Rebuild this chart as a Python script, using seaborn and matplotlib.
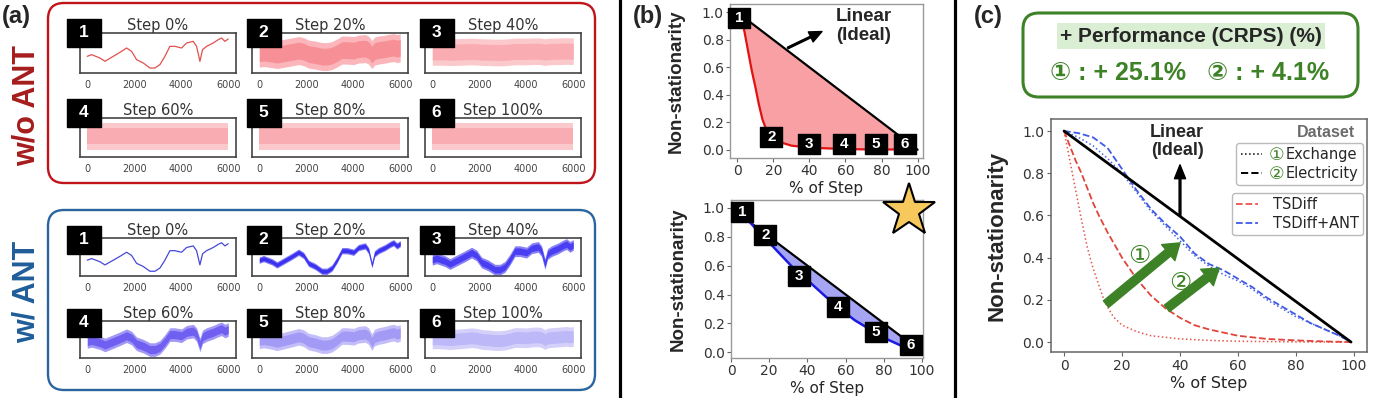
import numpy as np
import seaborn as sns
import matplotlib.pyplot as plt
from matplotlib.patches import FancyBboxPatch
from matplotlib.lines import Line2D

# ---------------- data ----------------
# (a) series read off the "Step 0%" panels
ts_x = [0, 184, 539, 752, 1106, 1390, 1673, 1886, 2099, 2382, 2666, 2879, 3091, 3304,
        3517, 3730, 4014, 4227, 4510, 4652, 4794, 4907, 5077, 5361, 5574, 5716, 5858, 6000]
ts_y = [0.5, 0.55, 0.45, 0.35, 0.5, 0.62, 0.75, 0.65, 0.4, 0.3, 0.15, 0.15, 0.25, 0.5,
        0.8, 0.8, 0.75, 0.9, 0.95, 0.8, 0.35, 0.7, 0.8, 0.9, 1.0, 1.05, 0.95, 1.02]
steps = ["Step 0%", "Step 20%", "Step 40%", "Step 60%", "Step 80%", "Step 100%"]
time_ticks = [0, 2000, 4000, 6000]
# share of the step-0 trend still visible, and half-width of the noise band
wo_trend = [1.0, 0.3, 0.05, 0.0, 0.0, 0.0]
wo_noise = [0.0, 0.42, 0.40, 0.42, 0.42, 0.42]
w_trend = [1.0, 1.0, 0.9, 0.75, 0.45, 0.15]
w_noise = [0.0, 0.10, 0.17, 0.22, 0.27, 0.32]

# (b) non-stationarity vs % of step
ideal_x = [0, 100]
ideal_y = [1.0, 0.0]
wo_curve_x = [2, 3, 4, 5, 6, 7, 8, 10, 12, 14, 16, 18, 20, 25, 30, 40, 50, 60, 70, 80, 90]
wo_curve_y = [1.0, 0.93, 0.86, 0.79, 0.72, 0.65, 0.58, 0.46, 0.33, 0.22, 0.15, 0.11, 0.08,
              0.05, 0.03, 0.015, 0.01, 0.005, 0.003, 0.002, 0.002]
w_curve_x = [8, 12, 16, 20, 25, 30, 35, 40, 45, 50, 55, 60, 65, 70, 75, 80, 85, 90, 94]
w_curve_y = [0.93, 0.87, 0.8, 0.76, 0.69, 0.62, 0.55, 0.5, 0.44, 0.38, 0.33, 0.27, 0.22,
             0.18, 0.14, 0.1, 0.07, 0.04, 0.03]
wo_mark_x = [1, 19, 40, 59, 77, 93]
wo_mark_y = [0.96, 0.09, 0.04, 0.04, 0.04, 0.04]
w_mark_x = [6, 18, 35.5, 56, 76, 94]
w_mark_y = [0.97, 0.81, 0.53, 0.31, 0.14, 0.05]

# (c) TSDiff vs TSDiff+ANT
tsdiff_exch_x = [0, 1, 2, 3, 4, 6, 8, 10, 12, 14, 17, 20, 25, 30, 40, 50, 60, 80, 99]
tsdiff_exch_y = [1.0, 0.93, 0.86, 0.79, 0.72, 0.58, 0.45, 0.35, 0.27, 0.19, 0.12, 0.08,
                 0.05, 0.03, 0.015, 0.008, 0.004, 0.001, 0.0]
tsdiff_elec_x = [0, 2, 4, 6, 8, 10, 12, 15, 20, 25, 30, 35, 40, 45, 50, 60, 70, 80, 90, 99]
tsdiff_elec_y = [1.0, 0.93, 0.86, 0.8, 0.73, 0.66, 0.6, 0.52, 0.4, 0.3, 0.22, 0.16, 0.115,
                 0.08, 0.06, 0.03, 0.015, 0.008, 0.003, 0.0]
ant_x = [0, 5, 10, 15, 20, 25, 30, 35, 40, 45, 50, 55, 60, 65, 70, 75, 80, 85, 90, 95, 99]
ant_elec_y = [1.0, 0.99, 0.97, 0.92, 0.82, 0.72, 0.63, 0.56, 0.5, 0.42, 0.37, 0.34, 0.3,
              0.26, 0.21, 0.17, 0.13, 0.09, 0.06, 0.03, 0.0]
ant_exch_y = [1.0, 0.97, 0.93, 0.87, 0.8, 0.71, 0.62, 0.55, 0.48, 0.41, 0.36, 0.32, 0.29,
              0.25, 0.2, 0.16, 0.12, 0.09, 0.06, 0.03, 0.0]
crps_marks = ["\u2460", "\u2461"]
crps_gain = [25.1, 4.1]

# ---------------- style ----------------
sns.set_style("ticks")
plt.rcParams["font.family"] = ["DejaVu Sans", "Noto Sans CJK SC"]
ARIAL = ["Liberation Sans", "DejaVu Sans", "Noto Sans CJK SC"]
RED_BOX, RED_TXT = "#c0141a", "#a51c1c"
BLUE_BOX, BLUE_TXT = "#2a65a0", "#1f5d99"
GREEN = "#3e8227"
wo_colors = ["#e0504e", "#f7868d", "#f9a5ab", "#f9a5ab", "#f9a5ab", "#f9a5ab"]
w_colors = ["#4848d8", "#2a20ee", "#3a2ef0", "#6453f0", "#9c92f5", "#b8b2f8"]
box_marker = [(-1.2, -1), (1.2, -1), (1.2, 1), (-1.2, 1), (-1.2, -1)]

W, H = 1377, 398
fig = plt.figure(figsize=(W / 100, H / 100), dpi=100)


def px_axes(x0, y0, x1, y1):
    return fig.add_axes([x0 / W, 1 - y1 / H, (x1 - x0) / W, (y1 - y0) / H])


def px_round_box(x0, y0, x1, y1, color, lw, r):
    p = FancyBboxPatch((x0 / 100, (H - y1) / 100), (x1 - x0) / 100, (y1 - y0) / 100,
                       boxstyle=f"round,pad=0,rounding_size={r / 100}",
                       transform=fig.dpi_scale_trans, fc="none", ec=color, lw=lw,
                       zorder=-1)
    fig.patches.append(p)


# ---------------- (a) ----------------
px_round_box(48, 3, 595, 183, RED_BOX, 1.7, 16)
px_round_box(48, 210, 595, 390, BLUE_BOX, 1.7, 16)
fig.text(16 / W, 1 - 16 / H, "(a)", fontsize=17, fontweight="bold", family=ARIAL,
         ha="center", va="center")
fig.text(27 / W, 1 - 105 / H, "w/o ANT", fontsize=22, fontweight="bold", family=ARIAL,
         color=RED_TXT, rotation=90, ha="center", va="center")
fig.text(27 / W, 1 - 292 / H, "w/ ANT", fontsize=22, fontweight="bold", family=ARIAL,
         color=BLUE_TXT, rotation=90, ha="center", va="center")

cols = [(80, 236), (252, 408), (425, 581)]
col_box_fx = [0.026, 0.074, 0.074]
groups = [
    ([(33, 73), (118, 157)], [1.01, 1.13], wo_trend, wo_noise, wo_colors),
    ([(238, 276), (321, 358)], [0.95, 0.95], w_trend, w_noise, w_colors),
]
base_x = np.array(ts_x)
base_y = np.array(ts_y)
mean_y = base_y.mean()
for rows, box_fy, trend, noise, colors in groups:
    for i in range(6):
        r, c = divmod(i, 3)
        ax = px_axes(cols[c][0], rows[r][0], cols[c][1], rows[r][1])
        center = mean_y + trend[i] * (base_y - mean_y)
        if noise[i] == 0:
            sns.lineplot(x=base_x, y=center, ax=ax, color=colors[i], lw=0.9)
        else:
            ax.fill_between(base_x, center - noise[i], center + noise[i],
                            color=colors[i], alpha=0.6, lw=0)
            ax.fill_between(base_x, center - 0.6 * noise[i], center + 0.6 * noise[i],
                            color=colors[i], alpha=0.8, lw=0)
        ax.set_xlim(-310, 6330)
        ax.set_ylim(0.0, 1.2)
        ax.set_yticks([])
        ax.set_xticks(time_ticks)
        ax.tick_params(axis="x", length=0, pad=5, labelsize=7, labelcolor="#444")
        for s in ax.spines.values():
            s.set_color("#444")
            s.set_linewidth(1.2)
        ax.set_title(steps[i], fontsize=10.5, color="#333", pad=2)
        ax.plot([col_box_fx[c]], [box_fy[r]], marker=box_marker, ms=24.5, color="k",
                transform=ax.transAxes, clip_on=False, zorder=5)
        ax.text(col_box_fx[c], box_fy[r], str(i + 1), transform=ax.transAxes,
                color="white", fontsize=12.5, fontweight="bold", family=ARIAL,
                ha="center", va="center", zorder=6)

# divider lines
for xd in (620, 955):
    fig.add_artist(Line2D([xd / W, xd / W], [0, 1], color="k", lw=2.3))

# ---------------- (b) ----------------
fig.text(648 / W, 1 - 17 / H, "(b)", fontsize=17, fontweight="bold", family=ARIAL,
         ha="center", va="center")


def style_b(ax, xlim, ylim):
    ax.set_xlim(*xlim)
    ax.set_ylim(*ylim)
    ax.set_xticks([0, 20, 40, 60, 80, 100])
    ax.set_yticks([0, 0.2, 0.4, 0.6, 0.8, 1.0])
    ax.set_yticklabels([f"{v:.1f}" for v in [0, 0.2, 0.4, 0.6, 0.8, 1.0]])
    ax.tick_params(length=3, pad=1.5, labelsize=10, labelcolor="#333", color="#666")
    for s in ax.spines.values():
        s.set_color("#999")
        s.set_linewidth(1.0)
    ax.set_xlabel("% of Step", fontsize=11, labelpad=2)
    ax.set_ylabel("Non-stationarity", fontsize=13.5, fontweight="bold", family=ARIAL)
    ax.yaxis.set_label_coords(-0.233, 0.5)


def step_marks(ax, xs, ys, ms=16.5, fs=11):
    ax.plot(xs, ys, ls="none", marker=box_marker, ms=ms, color="k", zorder=5, clip_on=False)
    for k, (x, y) in enumerate(zip(xs, ys)):
        ax.text(x, y, str(k + 1), color="white", fontsize=fs, fontweight="bold",
                family=ARIAL, ha="center", va="center", zorder=6)


ax_b1 = px_axes(730, 4, 923, 158)
lin1 = np.interp(wo_curve_x, ideal_x, ideal_y)
ax_b1.fill_between(wo_curve_x, wo_curve_y, lin1, color="#f8a0a4", lw=0, zorder=1)
sns.lineplot(x=ideal_x, y=ideal_y, ax=ax_b1, color="k", lw=1.6, zorder=3)
sns.lineplot(x=wo_curve_x, y=wo_curve_y, ax=ax_b1, color="#e01212", lw=1.6, zorder=3)
style_b(ax_b1, (-4, 103), (-0.06, 1.06))
step_marks(ax_b1, wo_mark_x, wo_mark_y)
ax_b1.annotate("", xy=(47, 0.86), xytext=(28, 0.74),
               arrowprops=dict(facecolor="k", edgecolor="k", width=1.2, headwidth=8,
                               headlength=9))
ax_b1.text(70, 0.9, "Linear\n(Ideal)", fontsize=13.5, fontweight="bold", family=ARIAL,
           ha="center", va="center", linespacing=1.15)

ax_b2 = px_axes(731, 200, 923, 358)
lin2 = np.interp(w_curve_x, ideal_x, ideal_y)
ax_b2.fill_between(w_curve_x, w_curve_y, lin2, color="#a5a5f4", lw=0, zorder=1)
sns.lineplot(x=ideal_x, y=ideal_y, ax=ax_b2, color="k", lw=1.6, zorder=3)
sns.lineplot(x=w_curve_x, y=w_curve_y, ax=ax_b2, color="#1a1ae0", lw=1.8, zorder=3)
style_b(ax_b2, (0, 100.5), (-0.04, 1.055))
step_marks(ax_b2, w_mark_x, w_mark_y)
ax_b2.plot([93], [0.98], marker="*", ms=40, mfc="#f7c95c", mec="k", mew=1.5,
           clip_on=False, zorder=7)

# ---------------- (c) ----------------
fig.text(988 / W, 1 - 16 / H, "(c)", fontsize=17, fontweight="bold", family=ARIAL,
         ha="center", va="center")
px_round_box(1023, 13, 1358, 97, GREEN, 2.2, 16)
fig.text(1191 / W, 1 - 36 / H, "+ Performance (CRPS) (%)", fontsize=15,
         fontweight="bold", family=ARIAL, ha="center", va="center",
         bbox=dict(boxstyle="square,pad=0.15", fc="#d9eed3", ec="none"))
gain_line = "   ".join(f"{m} : + {g}%" for m, g in zip(crps_marks, crps_gain))
fig.text(1190 / W, 1 - 73 / H, gain_line, fontsize=18, fontweight="bold", family=ARIAL,
         color=GREEN, ha="center", va="center")

ax_c = px_axes(1051, 119, 1367, 352)
sns.lineplot(x=tsdiff_exch_x, y=tsdiff_exch_y, ax=ax_c, color="#e8554a", lw=1.1,
             linestyle=":")
sns.lineplot(x=tsdiff_elec_x, y=tsdiff_elec_y, ax=ax_c, color="#e0443a", lw=1.3,
             linestyle="--")
sns.lineplot(x=ant_x, y=ant_exch_y, ax=ax_c, color="#4a62e6", lw=1.1, linestyle=":")
sns.lineplot(x=ant_x, y=ant_elec_y, ax=ax_c, color="#3f5ae6", lw=1.3, linestyle="--")
sns.lineplot(x=[0, 99], y=[1.0, 0.0], ax=ax_c, color="k", lw=2.0, zorder=4)
ax_c.set_xlim(-4.5, 104.5)
ax_c.set_ylim(-0.047, 1.057)
ax_c.set_xticks([0, 20, 40, 60, 80, 100])
ax_c.set_yticks([0, 0.2, 0.4, 0.6, 0.8, 1.0])
ax_c.set_yticklabels([f"{v:.1f}" for v in [0, 0.2, 0.4, 0.6, 0.8, 1.0]])
ax_c.tick_params(length=3, pad=2, labelsize=10, labelcolor="#333", color="#666")
for s in ax_c.spines.values():
    s.set_color("#666")
    s.set_linewidth(1.1)
ax_c.set_xlabel("% of Step", fontsize=11.5, labelpad=2)
ax_c.set_ylabel("Non-stationarity", fontsize=16, fontweight="bold", family=ARIAL)
ax_c.yaxis.set_label_coords(-0.139, 0.5)

ax_c.text(39, 0.95, "Linear\n(Ideal)", fontsize=13, fontweight="bold", family=ARIAL,
          ha="center", va="center", linespacing=1.1)
ax_c.annotate("", xy=(40, 0.84), xytext=(40, 0.6),
              arrowprops=dict(facecolor="k", edgecolor="k", width=1.3, headwidth=8,
                              headlength=10))
ax_c.annotate("", xy=(40, 0.47), xytext=(14.5, 0.18),
              arrowprops=dict(facecolor=GREEN, edgecolor=GREEN, width=6, headwidth=15,
                              headlength=11), zorder=6)
ax_c.annotate("", xy=(53.5, 0.35), xytext=(35.5, 0.16),
              arrowprops=dict(facecolor=GREEN, edgecolor=GREEN, width=6, headwidth=15,
                              headlength=11), zorder=6)
ax_c.text(26, 0.41, crps_marks[0], fontsize=18, color=GREEN, ha="center", va="center")
ax_c.text(40, 0.28, crps_marks[1], fontsize=18, color=GREEN, ha="center", va="center")

ax_c.text(0.962, 0.944, "Dataset", transform=ax_c.transAxes, fontsize=11.5,
          fontweight="bold", family=ARIAL, color="#6b6b6b", ha="right", va="center")
leg_kw = dict(fontsize=10.5, handlelength=1.5, labelspacing=0.25,
              borderpad=0.3, fancybox=True, framealpha=1, edgecolor="#bbb",
              borderaxespad=0)
leg1 = ax_c.legend(handles=[Line2D([], [], color="k", ls=":", lw=1.1),
                            Line2D([], [], color="k", ls="--", lw=1.4)],
                   labels=["Exchange", "Electricity"], loc="upper right",
                   handletextpad=1.6, bbox_to_anchor=(0.987, 0.897), **leg_kw)
ax_c.add_artist(leg1)
leg2 = ax_c.legend(handles=[Line2D([], [], color="#e8554a", ls="--", lw=1.3),
                            Line2D([], [], color="#3f5ae6", ls="--", lw=1.3)],
                   labels=["TSDiff", "TSDiff+ANT"], loc="upper right",
                   handletextpad=1.0, bbox_to_anchor=(0.987, 0.682), **leg_kw)

fig.canvas.draw()
for txt, mark in zip(leg1.get_texts(), crps_marks):
    bb = txt.get_window_extent()
    fig.text((bb.x0 - 1) / W, (bb.y0 + bb.y1) / 2 / H, mark, fontsize=12.5, color=GREEN,
             ha="right", va="center")

fig.savefig("out.png", dpi=100)
